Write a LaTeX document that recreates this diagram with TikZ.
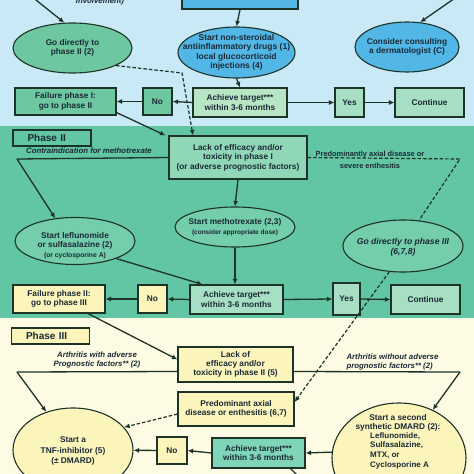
\documentclass[tikz,border=0pt]{standalone}
\usepackage{fontspec}
\setmainfont{Liberation Sans}
\usepackage{tkz-euclide}
\usetikzlibrary{arrows.meta,shapes.geometric}
\definecolor{bgblue}{HTML}{C9E9F6}
\definecolor{bggreen}{HTML}{62C5A3}
\definecolor{bgyellow}{HTML}{FDFBE3}
\definecolor{blueell}{HTML}{52B7E6}
\definecolor{greenell}{HTML}{6DC79F}
\definecolor{greentwo}{HTML}{74CDAB}
\definecolor{paleone}{HTML}{B8E5C4}
\definecolor{paletwo}{HTML}{A6DFC3}
\definecolor{lackone}{HTML}{8FD7B6}
\definecolor{yellowbox}{HTML}{FBF4BB}
\definecolor{tealbox}{HTML}{7FD5B8}
\definecolor{edge}{HTML}{1E3328}
\definecolor{ink}{HTML}{1B2A36}

\begin{document}
\begin{tikzpicture}[x=1pt,y=-1pt,
    box/.style={draw=edge,line width=1.1pt,inner sep=1pt,align=center,
        font=\fontsize{8.3}{9.6}\selectfont\bfseries,text=ink},
    ell/.style={ellipse,draw=edge,line width=1.1pt,inner sep=0pt},
    txt/.style={align=center,font=\fontsize{8.3}{9.6}\selectfont\bfseries,text=ink},
    note/.style={align=center,font=\fontsize{7.8}{9.4}\selectfont\bfseries\itshape,text=ink},
    phase/.style={box,font=\fontsize{10}{11}\selectfont\bfseries,text width=49pt,
        align=left,inner xsep=14.5pt,minimum height=16pt},
    arr/.style={-{Latex[length=5.5pt,width=5pt]},line width=1.3pt,draw=edge},
    dsh/.style={line width=1.2pt,draw=edge,dash pattern=on 3.5pt off 2pt}]
    \useasboundingbox (0,0) rectangle (474,474);
    \clip (0,0) rectangle (474,474);
    % BANDS
    \fill[bgblue] (0,0) rectangle (474,126);
    \fill[bggreen] (0,126) rectangle (474,318);
    \fill[bgyellow] (0,318) rectangle (474,474);
    % PHASE I
    \node[box,fill=blueell,minimum width=116pt,minimum height=19pt] (top) at (240,-0.5) {};
    \node[note] (invt) at (100,1.5) {involvement)};
    \node[ell,fill=greenell,minimum width=119pt,minimum height=50pt] (go2) at (72.5,48) {};
    \node[txt] (go2t) at (go2) {Go directly to\\phase II (2)};
    \node[ell,fill=blueell,minimum width=117pt,minimum height=51pt] (nsaid) at (236.5,52.5) {};
    \node[txt,font=\fontsize{8.5}{9.4}\selectfont\bfseries] (nsaidt) at (nsaid) {Start non-steroidal\\antiinflammatory drugs (1)\\local glucocorticoid\\injections (4)};
    \node[ell,fill=blueell,minimum width=104pt,minimum height=50pt] (derm) at (407,47) {};
    \node[txt] (dermt) at (derm) {Consider consulting\\a dermatologist (C)};
    \node[box,fill=greenell,minimum width=101pt,minimum height=27pt] (f1) at (65.5,101.5) {Failure phase I:\\go to phase II};
    \node[box,fill=greenell,minimum width=29pt,minimum height=27pt] (no1) at (157.5,101.5) {No};
    \node[box,fill=paleone,minimum width=94pt,minimum height=29pt] (ach1) at (240,102.5) {Achieve target***\\within 3-6 months};
    \node[box,fill=paletwo,minimum width=29pt,minimum height=29pt] (yes1) at (349.5,102.5) {Yes};
    \node[box,fill=paletwo,minimum width=69pt,minimum height=29pt] (cont1) at (429.5,102.5) {Continue};
    \tkzDefPoints{31/-4/c1,458/-4/c2,182/73/b1,17/159/b2,460/159/b3}
    \draw[arr] (c1) -- (go2.108);
    \draw[arr] (c2) -- (derm.62);
    \draw[arr] (top.south) -- (nsaid.north);
    \draw[arr] (nsaid.south) -- (ach1.north);
    \draw[arr] (ach1.west) -- (no1.east);
    \draw[arr] (no1.west) -- (f1.east);
    \draw[arr] (ach1.east) -- (yes1.west);
    \draw[arr] (yes1.east) -- (cont1.west);
    % PHASE II
    \node[phase,fill=bggreen,minimum width=78pt] (ph2) at (52,138) {Phase II};
    \node[box,fill=lackone,minimum width=138pt,minimum height=43pt] (lack1) at (238,157.5) {Lack of efficacy and/or\\toxicity in phase I\\(or adverse prognostic factors)};
    \draw[dsh,-{Latex[length=5.5pt,width=5pt]}] (go2.-22) -- (b1) -- ([xshift=-45pt]lack1.north);
    \draw[arr] ([yshift=3pt]f1.south east) -- ([xshift=-3pt]lack1.north west);
    \node[note,anchor=south] (contra) at (89,157) {Contraindication for methotrexate};
    \node[ell,fill=greentwo,minimum width=120pt,minimum height=40pt] (mtx) at (235,227) {};
    \node[txt] (mtxt) at (mtx) {Start methotrexate (2,3)\\{\fontsize{6.5}{7.5}\selectfont (consider appropriate dose)}};
    \node[ell,fill=greentwo,minimum width=120pt,minimum height=47pt] (lef) at (75,241) {};
    \node[txt] (left) at (75,245.5) {Start leflunomide\\or sulfasalazine (2)\\{\fontsize{6.8}{7.8}\selectfont (or cyclosporine A)}};
    \node[ell,fill=greentwo,minimum width=120pt,minimum height=52pt] (go3) at (403,246) {};
    \node[txt,font=\fontsize{8.6}{10}\selectfont\bfseries\itshape] (go3t) at (403,247) {Go directly to phase III\\(6,7,8)};
    \node[txt,font=\fontsize{7.4}{12}\selectfont\bfseries] (axt) at (370,160) {Predominantly axial disease or\\severe enthesitis};
    \draw[line width=1.3pt,draw=edge] (lack1.west) -- (b2);
    \draw[arr] (b2) -- (lef.131);
    \draw[dsh] (lack1.east) -- (b3) -- (go3.58);
    \draw[arr] (lack1.south) -- (mtx.north);
    \node[box,fill=yellowbox,minimum width=92pt,minimum height=28pt] (f2) at (59,299) {Failure phase II:\\go to phase III};
    \node[box,fill=yellowbox,minimum width=29pt,minimum height=28pt] (no2) at (152.5,299) {No};
    \node[box,fill=paletwo,minimum width=93pt,minimum height=29pt] (ach2) at (236.5,299.5) {Achieve target***\\within 3-6 months};
    \node[box,fill=paletwo,minimum width=27pt,minimum height=32pt] (yes2) at (346.5,299) {Yes};
    \node[box,fill=paletwo,minimum width=69pt,minimum height=29pt] (cont2) at (425.5,299.5) {Continue};
    \draw[arr] (mtx.south) -- (mtx.south |- ach2.north);
    \draw[arr] (lef.-23) -- ([xshift=-34pt]ach2.north);
    \draw[arr] (ach2.west) -- (no2.east);
    \draw[arr] (no2.west) -- (f2.east);
    \draw[arr] (ach2.east) -- (yes2.west);
    \draw[arr] (yes2.east) -- (cont2.west);
    % PHASE III
    \node[phase,fill=yellowbox,minimum width=77pt] (ph3) at (50.5,336) {Phase III};
    \node[box,fill=yellowbox,minimum width=115pt,minimum height=35pt,font=\fontsize{8.3}{9}\selectfont\bfseries] (lack2) at (235.5,364.5) {Lack of\\efficacy and/or\\toxicity in phase II (5)};
    \node[box,fill=yellowbox,minimum width=116pt,minimum height=34pt] (pred) at (236,409) {Predominant axial\\disease or enthesitis (6,7)};
    \node[ell,fill=yellowbox,minimum width=120pt,minimum height=84pt] (tnf) at (73,450) {};
    \node[txt,font=\fontsize{8.3}{10.5}\selectfont\bfseries] (tnft) at (73,451) {Start a\\TNF-inhibitor (5)\\(± DMARD)};
    \node[ell,fill=yellowbox,minimum width=134pt,minimum height=110pt] (dmard) at (399,458) {};
    \node[txt,font=\fontsize{8.3}{8.5}\selectfont\bfseries] (dmardt) at (398,423) {Start a second\\synthetic DMARD (2):};
    \node[txt,align=left,anchor=north west,inner sep=0pt,font=\fontsize{8}{9.7}\selectfont\bfseries] (dmardl) at (370,432) {Leflunomide,\\Sulfasalazine,\\MTX, or\\Cyclosporine A};
    \node[box,fill=yellowbox,minimum width=30pt,minimum height=27pt] (no3) at (172,450.5) {No};
    \node[box,fill=tealbox,minimum width=93pt,minimum height=30pt] (ach3) at (258.5,453) {Achieve target***\\within 3-6 months};
    \tkzDefPoints{17/372/b4,460/372/b5,302/480/c3}
    \node[note] (withadv) at (97,360) {Arthritis with adverse\\Prognostic factors** (2)};
    \node[note,align=left,anchor=west] (woadv) at (343,362) {Arthritis without adverse\\prognostic factors** (2)};
    \draw[arr] ([xshift=29pt]f2.south) -- ([yshift=5pt]lack2.west);
    \draw[line width=1.3pt,draw=edge] ([yshift=-7pt]lack2.west) -- (b4);
    \draw[arr] (b4) -- (tnf.125);
    \draw[line width=1.3pt,draw=edge] ([yshift=-7pt]lack2.east) -- (b5);
    \draw[arr] (b5) -- (dmard.55);
    \draw[dsh,-{Latex[length=5.5pt,width=5pt]}] (go3.-118) -- ([yshift=7pt]pred.east);
    \draw[dsh,-{Latex[length=5.5pt,width=5pt]}] ([yshift=-5pt]pred.west) -- (tnf.24);
    \draw[arr] (ach3.west) -- (no3.east);
    \draw[arr] (no3) -- (tnf);
    \draw[arr] (dmard.175) -- (ach3.east);
    \draw[line width=1.3pt,draw=edge] ([xshift=32pt]ach3.south) -- (c3);
\end{tikzpicture}
\end{document}
